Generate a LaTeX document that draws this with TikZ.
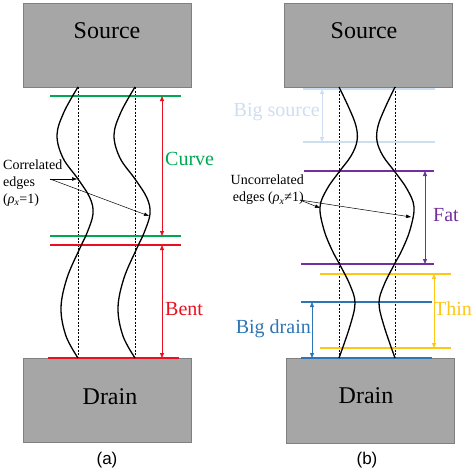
\documentclass[tikz,border=0pt]{standalone}
\usepackage{fontspec}
\setmainfont{Liberation Serif}
\newfontfamily\arialf{Liberation Sans}
\usetikzlibrary{arrows.meta}
\definecolor{cgreen}{RGB}{0,168,82}
\definecolor{cred}{RGB}{232,16,32}
\definecolor{cpurple}{RGB}{112,48,160}
\definecolor{cyellow}{RGB}{255,198,20}
\definecolor{cblue}{RGB}{46,117,182}
\definecolor{clblue}{RGB}{205,222,240}
\definecolor{cbox}{RGB}{166,166,166}
\definecolor{cboxb}{RGB}{128,128,128}
\tikzset{
  box/.style={draw=cboxb, line width=0.6pt, fill=cbox, inner sep=0pt},
  bigtext/.style={font=\fontsize{24}{28}\selectfont, inner sep=0pt},
  midtext/.style={font=\fontsize{20}{24}\selectfont, inner sep=0pt},
  smalltext/.style={font=\fontsize{14}{17}\selectfont, inner sep=0pt, align=left},
  captext/.style={font=\arialf\fontsize{17}{20}\selectfont, inner sep=0pt},
  level/.style={line width=2.2pt},
  thinlevel/.style={line width=1.5pt},
  dim/.style={line width=0.8pt, {Triangle[length=5pt,width=4pt]}-{Triangle[length=5pt,width=4pt]}},
  pointer/.style={line width=0.5pt, -{Triangle[length=5pt,width=3.5pt]}},
  axis/.style={line width=0.6pt, dash pattern=on 2pt off 1.5pt},
  edge/.style={line width=1.3pt},
}
\begin{document}
\begin{tikzpicture}[x=1pt,y=-1pt]
\useasboundingbox (0,0) rectangle (474,474);
% ---------- boxes ----------
\node[box, minimum width=168pt, minimum height=84pt] (srcA) at (107,45) {};
\node[box, minimum width=168pt, minimum height=84pt] (srcB) at (368,45) {};
\node[box, minimum width=168pt, minimum height=84pt] (drnA) at (107,400) {};
\node[box, minimum width=168pt, minimum height=85pt] (drnB) at (370,400.5) {};
\node[bigtext, anchor=base] (srcAt) at (107,38) {Source};
\node[bigtext, anchor=base] (srcBt) at (364,38) {Source};
\node[bigtext, anchor=base] (drnAt) at (110,404) {Drain};
\node[bigtext, anchor=base] (drnBt) at (366,403) {Drain};
\node[captext] (capA) at (107,460) {(a)};
\node[captext] (capB) at (367,460) {(b)};
% ---------- panel (a) ----------
\draw[axis] (78,87) -- (78,358);
\draw[axis] (135,87) -- (135,358);
\coordinate (gA1) at (50,96);  \coordinate (gA2) at (181,96);
\coordinate (gB1) at (50,236); \coordinate (gB2) at (181,236);
\coordinate (rA1) at (50,245); \coordinate (rA2) at (181,245);
\coordinate (rB1) at (48,358); \coordinate (rB2) at (179,358);
\draw[level, cgreen] (gA1) -- (gA2);
\draw[level, cgreen] (gB1) -- (gB2);
\draw[level, cred] (rA1) -- (rA2);
\draw[level, cred] (rB1) -- (rB2);
\coordinate (cvT) at (162,96);  \coordinate (cvB) at (162,236);
\coordinate (btT) at (162,245); \coordinate (btB) at (162,358);
\draw[dim, cred] (cvT) -- (cvB);
\draw[dim, cred] (btT) -- (btB);
\node[midtext, cgreen, anchor=west] (curveT) at (165,159) {Curve};
\node[midtext, cred, anchor=west] (bentT) at (165,309) {Bent};
\foreach \dx in {0,57}{
  \draw[edge, xshift=\dx pt] plot[smooth, tension=0.6] coordinates {
    (78,87) (64,112) (57,135) (63,158) (78,179) (90,198) (93,214)
    (87,233) (80,248) (67,278) (61,308) (66,336) (78,358)};
}
\node[smalltext, anchor=west] (corrT) at (3,183) {Correlated\\edges\\({\itshape ρ}\textsubscript{\itshape x}=1)};
\coordinate (corrS) at (50,179);
\coordinate (corrE1) at (77,179);
\coordinate (corrE2) at (149,216);
\draw[pointer] (corrS) -- (corrE1);
\draw[pointer] (corrS) -- (corrE2);
% ---------- panel (b) ----------
\draw[axis] (339,87) -- (339,358);
\draw[axis] (395,87) -- (395,358);
\draw[thinlevel, clblue] (303,89) -- (435,89);
\draw[thinlevel, clblue] (303,142) -- (435,142);
\draw[level, cpurple] (304,171) -- (434,171);
\draw[level, cpurple] (301,264) -- (434,264);
\draw[level, cyellow] (320,274) -- (451,274);
\draw[level, cyellow] (320,348) -- (451,348);
\draw[level, cblue] (301,302) -- (432,302);
\draw[level, cblue] (301,358) -- (432,358);
\coordinate (bsT) at (322,89);  \coordinate (bsB) at (322,142);
\coordinate (ftT) at (425,171); \coordinate (ftB) at (425,264);
\coordinate (thT) at (434,274); \coordinate (thB) at (434,348);
\coordinate (bdT) at (312,302); \coordinate (bdB) at (312,358);
\draw[dim, clblue] (bsT) -- (bsB);
\draw[dim, cpurple] (ftT) -- (ftB);
\draw[dim, cyellow] (thT) -- (thB);
\draw[dim, cblue] (bdT) -- (bdB);
\node[midtext, clblue, anchor=east] (bsText) at (320,112) {Big source};
\node[midtext, cpurple, anchor=west] (ftText) at (433,215) {Fat};
\node[midtext, cyellow, anchor=west] (thText) at (434,309) {Thin};
\node[midtext, cblue, anchor=east] (bdText) at (311,329) {Big drain};
\draw[edge] plot[smooth, tension=0.6] coordinates {
  (339,87) (349,108) (356,126) (357,141) (351,156) (339,172) (327,189)
  (320,207) (324,230) (332,250) (340,265) (350,285) (355,303) (350,326) (339,358)};
\draw[edge] plot[smooth, tension=0.6] coordinates {
  (395,87) (385,108) (378,126) (377,141) (383,156) (395,172) (407,189)
  (414,207) (410,230) (402,250) (394,265) (384,285) (379,303) (384,326) (395,358)};
\node[smalltext, align=right, anchor=east] (uncT) at (304,190) {Uncorrelated\\edges ({\itshape ρ}\textsubscript{\itshape x}≠1)};
\coordinate (uncS) at (300,200);
\coordinate (uncE1) at (320,208);
\coordinate (uncE2) at (411,217);
\draw[pointer] (uncS) -- (uncE1);
\draw[pointer] (uncS) -- (uncE2);
\end{tikzpicture}
\end{document}
